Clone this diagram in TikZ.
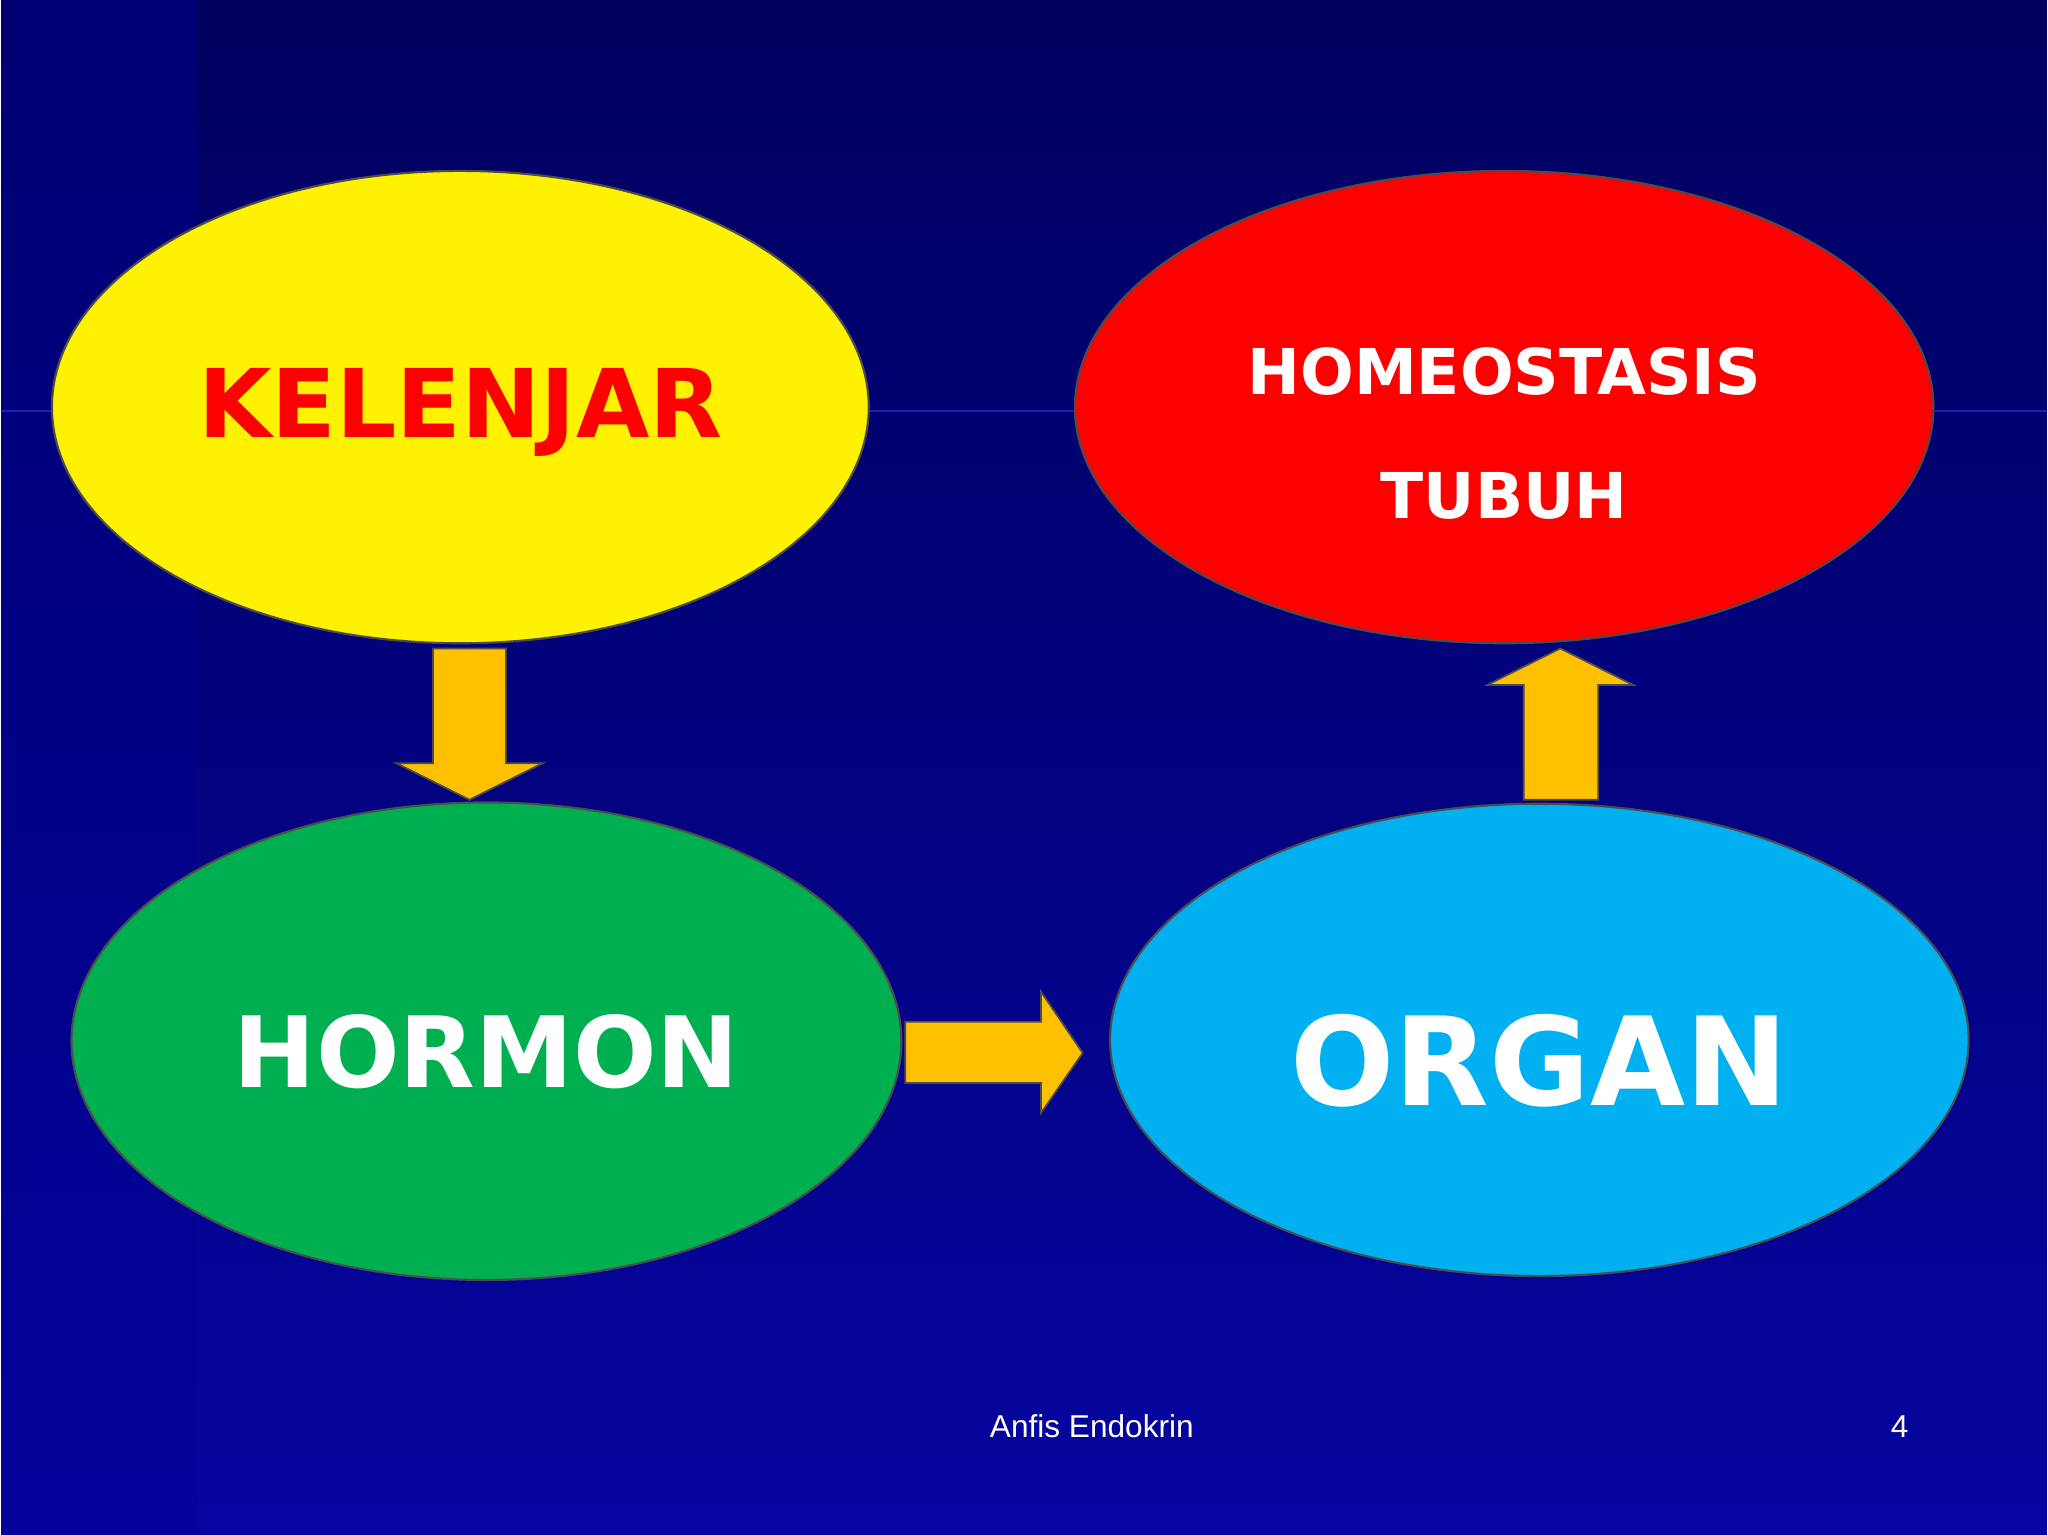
\documentclass[tikz,border=0pt]{standalone}
\usepackage{fontspec}
\setmainfont{Liberation Sans}
\newfontfamily\tah{DejaVu Sans}
\definecolor{bgtop}{RGB}{0,0,95}
\definecolor{bgbot}{RGB}{5,5,160}
\definecolor{strip}{RGB}{0,0,150}
\definecolor{hline}{RGB}{30,30,170}
\definecolor{orng}{RGB}{255,192,0}
\definecolor{grn}{RGB}{0,176,80}
\definecolor{cyn}{RGB}{0,176,240}
\begin{document}
\begin{tikzpicture}[x=0.01306cm,y=-0.01306cm,
  ell/.style={draw=black!70,line width=0.6pt},
  arr/.style={fill=orng,draw=black!70,line width=0.5pt},
  big/.style={text=white}]
\shade[top color=bgtop,bottom color=bgbot] (0,0) rectangle (1568,1176);
\fill[strip,opacity=0.35] (0,0) rectangle (150,1176);
\draw[hline,line width=0.6pt] (0,315) -- (1568,315);
\useasboundingbox (0,0) rectangle (1568,1176);
\draw[ell,fill=yellow] (352,312) ellipse [x radius=313,y radius=181];
\draw[ell,fill=red] (1152,312) ellipse [x radius=329,y radius=181];
\draw[ell,fill=grn] (372,798) ellipse [x radius=318,y radius=183];
\draw[ell,fill=cyn] (1179,797) ellipse [x radius=329,y radius=181];
\node (kel) [font=\tah\bfseries\fontsize{27}{30}\selectfont,text=red] at (352,316) {KELENJAR};
\node (hom) [big,font=\tah\bfseries\fontsize{18}{20}\selectfont] at (1152,285) {HOMEOSTASIS};
\node (tub) [big,font=\tah\bfseries\fontsize{18}{20}\selectfont] at (1152,380) {TUBUH};
\node (hor) [big,font=\tah\bfseries\fontsize{28}{30}\selectfont] at (372,806) {HORMON};
\node (org) [big,font=\tah\bfseries\fontsize{35}{38}\selectfont] at (1179,813) {ORGAN};
\draw[arr] (331,497) -- (387,497) -- (387,585) -- (415,585) -- (359,613) -- (303,585) -- (331,585) -- cycle;
\draw[arr] (693,783) -- (797,783) -- (797,760) -- (829,807) -- (797,853) -- (797,830) -- (693,830) -- cycle;
\draw[arr] (1167,613) -- (1167,525) -- (1139,525) -- (1195,497) -- (1251,525) -- (1224,525) -- (1224,613) -- cycle;
\node (ft) [text=white,font=\fontsize{9}{10}\selectfont] at (836,1093) {Anfis Endokrin};
\node (pg) [text=white,font=\fontsize{9}{10}\selectfont] at (1455,1093) {4};
\end{tikzpicture}
\end{document}
